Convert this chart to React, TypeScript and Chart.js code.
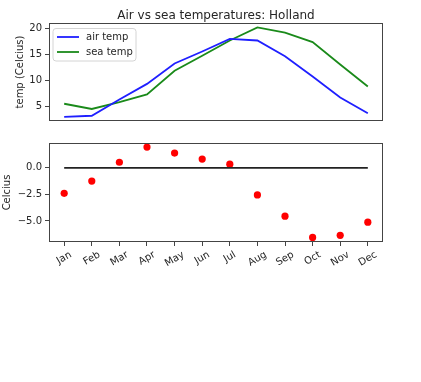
import React, { useEffect, useRef } from 'react';
import { Chart, registerables } from 'chart.js';

Chart.register(...registerables);

const months = ['Jan', 'Feb', 'Mar', 'Apr', 'May', 'Jun', 'Jul', 'Aug', 'Sep', 'Oct', 'Nov', 'Dec'];
const airTemp = [3.1, 3.3, 6.4, 9.4, 13.3, 15.6, 18.0, 17.7, 14.7, 10.8, 6.8, 3.8];
const seaTemp = [5.6, 4.6, 5.9, 7.4, 11.9, 14.8, 17.7, 20.2, 19.2, 17.4, 13.1, 8.9];
const tempDiff = [-2.4, -1.25, 0.52, 1.95, 1.38, 0.82, 0.34, -2.55, -4.55, -6.55, -6.35, -5.12];
const topYTicks = [5, 10, 15, 20];
const bottomYTicks = [-5, -2.5, 0];
const zeroLine = [0, 0];

const chartTitle = 'Air vs sea temperatures: Holland';
const topYLabel = 'temp (Celcius)';
const bottomYLabel = 'Celcius';
const airLabel = 'air temp';
const seaLabel = 'sea temp';

const FONT = "'DejaVu Sans', sans-serif";
const TEXT = '#262626';
const SPINE = '#444444';
const BLUE = '#1f1fff';
const GREEN = '#1a8a1a';
const RED = '#ff0000';

const framePlugin = {
  id: 'frame',
  afterDraw(chart: any) {
    const { ctx, chartArea } = chart;
    ctx.save();
    ctx.strokeStyle = SPINE;
    ctx.lineWidth = 1;
    const l = Math.floor(chartArea.left) + 0.5;
    const t = Math.floor(chartArea.top) + 0.5;
    const r = Math.floor(chartArea.right) - 0.5;
    const b = Math.floor(chartArea.bottom) - 0.5;
    ctx.strokeRect(l, t, r - l, b - t);
    ctx.restore();
  },
};

const titlePlugin = {
  id: 'mplTitle',
  afterDraw(chart: any) {
    const { ctx, chartArea } = chart;
    ctx.save();
    ctx.font = `12px ${FONT}`;
    ctx.fillStyle = TEXT;
    ctx.textAlign = 'center';
    ctx.textBaseline = 'alphabetic';
    ctx.fillText(chartTitle, (chartArea.left + chartArea.right) / 2, 18.5);
    ctx.restore();
  },
};

const legendPlugin = {
  id: 'mplLegend',
  afterDatasetsDraw(chart: any) {
    const { ctx, chartArea } = chart;
    const x0 = chartArea.left + 4;
    const y0 = chartArea.top + 5.5;
    const w = 83;
    const h = 32.5;
    const rad = 3;
    ctx.save();
    ctx.beginPath();
    ctx.moveTo(x0 + rad, y0);
    ctx.lineTo(x0 + w - rad, y0);
    ctx.quadraticCurveTo(x0 + w, y0, x0 + w, y0 + rad);
    ctx.lineTo(x0 + w, y0 + h - rad);
    ctx.quadraticCurveTo(x0 + w, y0 + h, x0 + w - rad, y0 + h);
    ctx.lineTo(x0 + rad, y0 + h);
    ctx.quadraticCurveTo(x0, y0 + h, x0, y0 + h - rad);
    ctx.lineTo(x0, y0 + rad);
    ctx.quadraticCurveTo(x0, y0, x0 + rad, y0);
    ctx.closePath();
    ctx.fillStyle = 'rgba(255,255,255,0.8)';
    ctx.fill();
    ctx.strokeStyle = '#d4d4d4';
    ctx.lineWidth = 1;
    ctx.stroke();
    chart.data.datasets.forEach((ds: any, i: number) => {
      const yy = y0 + 8.5 + i * 15;
      ctx.beginPath();
      ctx.strokeStyle = ds.borderColor;
      ctx.lineWidth = 1.8;
      ctx.moveTo(x0 + 4, yy);
      ctx.lineTo(x0 + 26, yy);
      ctx.stroke();
      ctx.font = `10px ${FONT}`;
      ctx.fillStyle = TEXT;
      ctx.textAlign = 'left';
      ctx.textBaseline = 'middle';
      ctx.fillText(ds.label, x0 + 33, yy);
    });
    ctx.restore();
  },
};

const xLabelPlugin = {
  id: 'rotatedXLabels',
  afterDraw(chart: any) {
    const { ctx, chartArea } = chart;
    const xs = chart.scales.x;
    const ang = (30 * Math.PI) / 180;
    ctx.save();
    ctx.font = `10px ${FONT}`;
    ctx.fillStyle = TEXT;
    ctx.textAlign = 'center';
    ctx.textBaseline = 'middle';
    months.forEach((m, i) => {
      const px = xs.getPixelForValue(i);
      const w = ctx.measureText(m).width;
      const h = 11.6;
      const bh = w * Math.sin(ang) + h * Math.cos(ang);
      const cy = chartArea.bottom + 7 + bh / 2;
      ctx.save();
      ctx.translate(px, cy);
      ctx.rotate(-ang);
      ctx.fillText(m, 0, 0);
      ctx.restore();
    });
    ctx.restore();
  },
};

function yAxis(min: number, max: number, ticks: number[], label: string, titlePad: number, fmt: (v: number) => string) {
  return {
    type: 'linear',
    position: 'left',
    min,
    max,
    afterBuildTicks: (s: any) => {
      s.ticks = ticks.map((v) => ({ value: v }));
    },
    afterFit: (s: any) => {
      s.width = 49;
    },
    ticks: {
      font: { family: FONT, size: 10 },
      color: TEXT,
      padding: 3,
      callback: (v: any) => fmt(Number(v)),
    },
    grid: { drawOnChartArea: false, drawTicks: true, tickLength: 4, color: SPINE, lineWidth: 1 },
    border: { display: false },
    title: {
      display: true,
      text: label,
      font: { family: FONT, size: 10 },
      color: TEXT,
      padding: { top: titlePad, bottom: 0 },
    },
  };
}

export default function App() {
  const topRef = useRef<HTMLCanvasElement>(null);
  const botRef = useRef<HTMLCanvasElement>(null);

  useEffect(() => {
    const top = new Chart(topRef.current as HTMLCanvasElement, {
      type: 'line',
      data: {
        datasets: [
          {
            label: airLabel,
            data: airTemp.map((y, i) => ({ x: i, y })),
            borderColor: BLUE,
            backgroundColor: BLUE,
            borderWidth: 1.8,
            pointRadius: 0,
            tension: 0,
            fill: false,
          },
          {
            label: seaLabel,
            data: seaTemp.map((y, i) => ({ x: i, y })),
            borderColor: GREEN,
            backgroundColor: GREEN,
            borderWidth: 1.8,
            pointRadius: 0,
            tension: 0,
            fill: false,
          },
        ],
      },
      options: {
        responsive: false,
        animation: false,
        devicePixelRatio: 1,
        layout: { padding: { left: 0, right: 38, top: 23, bottom: 8 } },
        plugins: { legend: { display: false }, tooltip: { enabled: false }, title: { display: false } },
        scales: {
          x: { type: 'linear', min: -0.55, max: 11.55, display: false },
          y: yAxis(2.3, 21.05, topYTicks, topYLabel, 14, (v) => String(v)),
        },
      } as any,
      plugins: [framePlugin, titlePlugin, legendPlugin],
    });

    const bot = new Chart(botRef.current as HTMLCanvasElement, {
      type: 'scatter',
      data: {
        datasets: [
          {
            type: 'line',
            label: 'zero',
            data: zeroLine.map((y, i) => ({ x: i * 11, y })),
            borderColor: '#222222',
            borderWidth: 1.8,
            pointRadius: 0,
            fill: false,
            order: 1,
          },
          {
            label: 'diff',
            data: tempDiff.map((y, i) => ({ x: i, y })),
            backgroundColor: RED,
            borderWidth: 0,
            pointRadius: 3.6,
            order: 2,
          },
        ],
      } as any,
      options: {
        responsive: false,
        animation: false,
        devicePixelRatio: 1,
        layout: { padding: { left: 0, right: 38, top: 13, bottom: 0 } },
        plugins: { legend: { display: false }, tooltip: { enabled: false }, title: { display: false } },
        scales: {
          x: {
            type: 'linear',
            min: -0.55,
            max: 11.55,
            afterBuildTicks: (s: any) => {
              s.ticks = months.map((_, i) => ({ value: i }));
            },
            afterFit: (s: any) => {
              s.height = 38;
            },
            ticks: { display: false },
            grid: { drawOnChartArea: false, drawTicks: true, tickLength: 4, color: SPINE, lineWidth: 1 },
            border: { display: false },
          },
          y: yAxis(-6.98, 2.33, bottomYTicks, bottomYLabel, 1.5, (v) => v.toFixed(1).replace('-', '\u2212')),
        },
      } as any,
      plugins: [framePlugin, xLabelPlugin],
    });

    return () => {
      top.destroy();
      bot.destroy();
    };
  }, []);

  return (
    <div style={{ position: 'fixed', left: 0, top: 0, width: 421, height: 382, background: '#ffffff' }}>
      <canvas ref={topRef} width={421} height={130} style={{ position: 'absolute', left: 0, top: 0, width: 421, height: 130 }} />
      <canvas ref={botRef} width={421} height={150} style={{ position: 'absolute', left: 0, top: 130, width: 421, height: 150 }} />
    </div>
  );
}
